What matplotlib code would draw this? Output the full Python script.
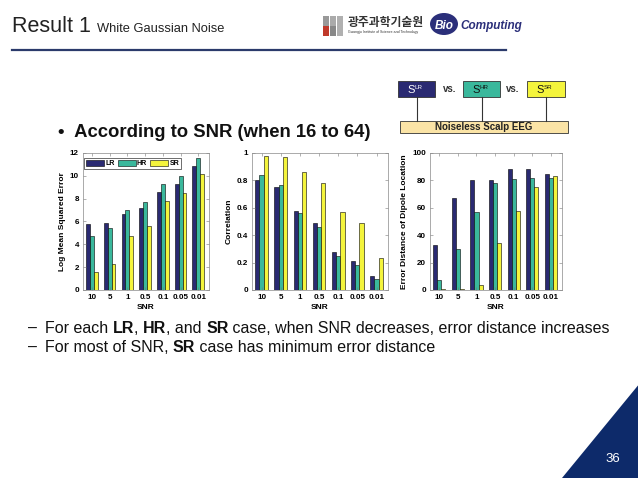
"""Slide: Result 1 - White Gaussian Noise, three grouped bar charts."""

import matplotlib
matplotlib.use('Agg')
import matplotlib.pyplot as plt
from matplotlib.patches import Rectangle, Polygon, Ellipse, Patch
from matplotlib.lines import Line2D

plt.rcParams['font.family'] = ['Liberation Sans', 'DejaVu Sans']

W, H = 638, 478

snr_labels = ['10', '5', '1', '0.5', '0.1', '0.05', '0.01']
series_names = ['LR', 'HR', 'SR']

mse_lr = [5.8, 5.9, 6.7, 7.2, 8.6, 9.3, 10.9]
mse_hr = [4.7, 5.4, 7.0, 7.7, 9.3, 10.0, 11.6]
mse_sr = [1.6, 2.3, 4.7, 5.6, 7.8, 8.5, 10.2]

corr_lr = [0.80, 0.75, 0.58, 0.49, 0.28, 0.21, 0.10]
corr_hr = [0.84, 0.77, 0.56, 0.46, 0.25, 0.18, 0.08]
corr_sr = [0.98, 0.97, 0.86, 0.78, 0.57, 0.49, 0.23]

dist_lr = [33, 67, 80, 80, 88, 88, 85]
dist_hr = [7, 30, 57, 78, 81, 82, 82]
dist_sr = [1, 1, 4, 34, 58, 75, 83]

COLORS = ['#2a2a72', '#3ab89c', '#f4f43c']

fig = plt.figure(figsize=(W / 100, H / 100), dpi=100, facecolor='white')


def px_rect(x0, y0, x1, y1):
    return [x0 / W, 1 - y1 / H, (x1 - x0) / W, (y1 - y0) / H]


def fx(x):
    return x / W


def fy(y):
    return 1 - y / H


def bar_chart(rect, series, ylim, yticks, yticklabels, ylabel, legend=False):
    ax = fig.add_axes(px_rect(*rect))
    pos = list(range(1, len(snr_labels) + 1))
    w = 0.22
    for i, vals in enumerate(series):
        ax.bar([p + (i - 1) * w for p in pos], vals, width=w,
               color=COLORS[i], edgecolor='black', linewidth=0.4)
    ax.set_xlim(0.5, 7.6)
    ax.set_ylim(*ylim)
    ax.set_xticks(pos)
    ax.set_xticklabels(snr_labels)
    ax.set_yticks(yticks)
    ax.set_yticklabels(yticklabels)
    ax.tick_params(direction='in', top=True, right=True, length=2,
                   width=0.4, color='#777777', labelsize=5.8, pad=3)
    for lab in ax.get_xticklabels() + ax.get_yticklabels():
        lab.set_fontweight('bold')
    for s in ax.spines.values():
        s.set_color('#888888')
        s.set_linewidth(0.5)
    ax.set_xlabel('SNR', fontsize=6, fontweight='bold', labelpad=2)
    ax.set_ylabel(ylabel, fontsize=6, fontweight='bold', labelpad=3)
    if legend:
        handles = [Patch(facecolor=COLORS[i], edgecolor='black', linewidth=0.4,
                         label=series_names[i]) for i in range(3)]
        leg = ax.legend(handles=handles, ncol=3, loc='upper left',
                        fontsize=5, frameon=True, fancybox=False,
                        handlelength=2.6, handleheight=0.9, columnspacing=0.4,
                        handletextpad=0.2, borderpad=0.3, borderaxespad=0.3,
                        bbox_to_anchor=(-0.01, 0.98))
        leg.get_frame().set_edgecolor('black')
        leg.get_frame().set_linewidth(0.5)
        for t in leg.get_texts():
            t.set_fontweight('bold')
    return ax


bar_chart((83, 153, 209, 290), [mse_lr, mse_hr, mse_sr], (0, 12),
          range(0, 13, 2), [str(v) for v in range(0, 13, 2)],
          'Log Mean Squared Error', legend=True)
bar_chart((252, 153, 388, 290), [corr_lr, corr_hr, corr_sr], (0, 1),
          [0, 0.2, 0.4, 0.6, 0.8, 1], ['0', '0.2', '0.4', '0.6', '0.8', '1'],
          'Correlation')
bar_chart((430, 153, 562, 290), [dist_lr, dist_hr, dist_sr], (0, 100),
          range(0, 101, 20), [str(v) for v in range(0, 101, 20)],
          'Error Distance of Dipole Location')

# ---- slide header ----
fig.text(fx(12), fy(32), 'Result 1', fontsize=15.5, color='#222222', va='baseline')
fig.text(fx(97), fy(32), 'White Gaussian Noise', fontsize=9.3, color='#222222',
         va='baseline')
fig.add_artist(Line2D([fx(12), fx(506)], [fy(50), fy(50)], color='#2b3a6b', lw=1.6))

# GIST logo blocks
fig.add_artist(Rectangle((fx(323), fy(36)), 6 / W, 10 / H, color='#c0392b', lw=0))
fig.add_artist(Rectangle((fx(323), fy(26)), 6 / W, 10 / H, color='#999999', lw=0))
fig.add_artist(Rectangle((fx(330), fy(36)), 6 / W, 10 / H, color='#888888', lw=0))
fig.add_artist(Rectangle((fx(330), fy(26)), 6 / W, 10 / H, color='#aaaaaa', lw=0))
fig.add_artist(Rectangle((fx(337), fy(36)), 6 / W, 20 / H, color='#b0b0b0', lw=0))
fig.text(fx(348), fy(26), '광주과학기술원', fontsize=8.5, fontweight='bold',
         family=['Noto Sans CJK KR'], color='#333333', va='baseline')
fig.text(fx(348), fy(33), 'Gwangju Institute of Science and Technology',
         fontsize=2.5, color='#333333', va='baseline')

# BioComputing logo
fig.add_artist(Ellipse((fx(444), fy(24)), 28 / W, 22 / H, color='#2b2f7a', lw=0))
fig.text(fx(435), fy(29), 'Bio', fontsize=8.5, fontweight='bold', style='italic',
         color='white', va='baseline')
fig.text(fx(460), fy(29), 'Computing', fontsize=8.5, fontweight='bold',
         style='italic', color='#2b2f7a', va='baseline')

# ---- comparison diagram ----
boxes = [(398, 435, COLORS[0], 'white', 'LR'),
         (463, 500, COLORS[1], '#111111', 'HR'),
         (527, 565, COLORS[2], '#111111', 'SR')]
for x0, x1, fc, tc, sub in boxes:
    fig.add_artist(Rectangle((fx(x0), fy(97)), (x1 - x0) / W, 16 / H,
                             facecolor=fc, edgecolor='#333333', lw=0.6))
    xm = (x0 + x1) / 2
    fig.add_artist(Line2D([fx(xm), fx(xm)], [fy(97), fy(121)], color='#333333', lw=0.8))
    fig.text(fx(xm - 2), fy(93), 'S', fontsize=8, color=tc, ha='right', va='baseline')
    fig.text(fx(xm - 2), fy(89), sub, fontsize=4.5, color=tc, ha='left', va='baseline')
fig.text(fx(450), fy(92), 'vs.', fontsize=7, fontweight='bold', color='#333333',
         ha='center', va='baseline')
fig.text(fx(513), fy(92), 'vs.', fontsize=7, fontweight='bold', color='#333333',
         ha='center', va='baseline')
fig.add_artist(Rectangle((fx(400), fy(133)), 168 / W, 12 / H,
                         facecolor='#fbe4a6', edgecolor='#333333', lw=0.6))
fig.text(fx(484), fy(127), 'Noiseless Scalp EEG', fontsize=7, fontweight='bold',
         color='#222222', ha='center', va='center')

# ---- bullet ----
fig.text(fx(58), fy(137), '•  According to SNR (when 16 to 64)', fontsize=13.3,
         fontweight='bold', color='#111111', va='baseline')

# ---- bottom notes with bold keywords ----
renderer = fig.canvas.get_renderer()


def text_width(s, size, bold):
    t = fig.text(0, 0, s + '|', fontsize=size, fontweight='bold' if bold else 'normal')
    t2 = fig.text(0, 0, '|', fontsize=size, fontweight='bold' if bold else 'normal')
    w = t.get_window_extent(renderer).width - t2.get_window_extent(renderer).width
    t.remove()
    t2.remove()
    return w


def rich_line(x, y, parts, size=11.5):
    cur = x
    for s, bold in parts:
        fig.text(fx(cur), fy(y), s, fontsize=size, color='#111111',
                 fontweight='bold' if bold else 'normal', va='baseline')
        cur += text_width(s, size, bold)


fig.text(fx(28), fy(333), '–', fontsize=11.5, color='#111111', va='baseline')
rich_line(45, 333, [('For each ', False), ('LR', True), (', ', False), ('HR', True),
                    (', and ', False), ('SR', True),
                    (' case, when SNR decreases, error distance increases', False)])
fig.text(fx(28), fy(352), '–', fontsize=11.5, color='#111111', va='baseline')
rich_line(45, 352, [('For most of SNR, ', False), ('SR', True),
                    (' case has minimum error distance', False)])

# ---- corner triangle with page number ----
fig.add_artist(Polygon([(fx(640), fy(383)), (fx(562), fy(478)), (fx(640), fy(478))],
                       closed=True, color='#0d2a6a', lw=0))
fig.text(fx(613), fy(462), '36', fontsize=9.5, color='white', ha='center',
         va='baseline')

fig.savefig('out.png', dpi=100, facecolor='white')
